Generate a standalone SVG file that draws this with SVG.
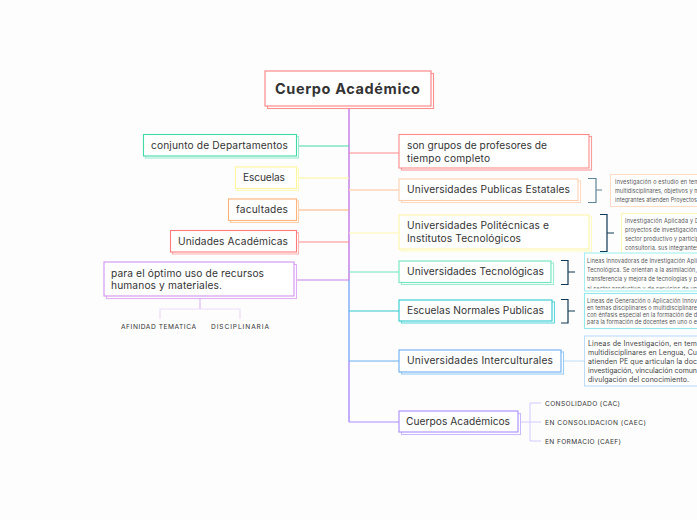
<svg xmlns="http://www.w3.org/2000/svg" width="697" height="520" viewBox="0 0 697 520">
<style>
text{font-family:"Inter","Open Sans","Liberation Sans",sans-serif;fill:#333}
.l{font-size:10.200px}
.s{font-size:5.500px;fill:#555}
.m{font-size:7px;fill:#444}
.t{font-size:6.600px}
.c{fill:none}
rect{fill:#fff;stroke-width:1.1}
</style>
<defs>
<clipPath id="cpTec"><rect x="585" y="254" width="112" height="34.500"/></clipPath>
<clipPath id="cpPol"><rect x="622" y="214" width="75" height="37"/></clipPath>
</defs>
<rect x="0" y="0" width="697" height="520" style="fill:#fdfdfd;stroke:none"/>
<g id="connectors" class="c" stroke-width="1">
<path d="M349 106V280" stroke="#bf78e6" stroke-width="1.400"/>
<path d="M349 280V361" stroke="#7faaf5" stroke-width="1.400"/>
<path d="M349 361V422" stroke="#a98cff" stroke-width="1.400"/>
<path d="M298 146H349" stroke="#40d9a8"/>
<path d="M298 178H349" stroke="#fff59a"/>
<path d="M298 210H349" stroke="#ffb27a"/>
<path d="M298 242H349" stroke="#ff8a8a"/>
<path d="M297 280H349" stroke="#c77ee8"/>
<path d="M349 153H399" stroke="#ff8a8a"/>
<path d="M349 190H399" stroke="#ffd3b8" stroke-width="1.600"/>
<path d="M349 233H399" stroke="#fff7b0"/>
<path d="M349 272H399" stroke="#6fe6bd"/>
<path d="M349 311H399" stroke="#2fc9d0"/>
<path d="M349 361H399" stroke="#6aaef0"/>
<path d="M349 422H399" stroke="#a98cff"/>
<path d="M200 299V309M160 319V309H240V319" stroke="#eeddfa" stroke-width="1.200"/>
<path d="M200 299V309" stroke="#e3c6f6" stroke-width="1.200"/>
<path d="M521 422H541M541 403H530V441H541" stroke="#d3c8ff"/>
<path d="M564 361H584" stroke="#bcdcf8"/>
<path d="M588 178.500H596V202.500H588M596 190H602" stroke="#5f8398" stroke-width="1.200"/>
<path d="M600 214.500H607V251.500H600M607 233H614" stroke="#0e3a55" stroke-width="1.200"/>
<path d="M561 260.500H568V284.500H561M568 272H575" stroke="#0e3a55" stroke-width="1.200"/>
<path d="M561 299.500H568V323H561M568 311H575" stroke="#0e3a55" stroke-width="1.200"/>
</g>
<g id="root">
<rect x="267.500" y="73.500" width="166" height="35" stroke="#ff8f8f"/>
<rect x="265" y="71" width="166" height="35" stroke="#ff8080"/>
<text x="275" y="94" font-size="14.500" font-weight="700" textLength="145">Cuerpo Académico</text>
</g>
<g id="n-departamentos">
<rect x="145.500" y="136.500" width="153" height="21.500" stroke="#9debd0"/>
<rect x="143.500" y="134.500" width="153" height="21.500" stroke="#40d9a8"/>
<text class="l" x="151" y="149" textLength="137">conjunto de Departamentos</text>
</g>
<g id="n-escuelas">
<rect x="237.500" y="169" width="61" height="21.500" stroke="#fff9b8"/>
<rect x="235.500" y="167" width="61" height="21.500" stroke="#fff59a"/>
<text class="l" x="243" y="181" textLength="42">Escuelas</text>
</g>
<g id="n-facultades">
<rect x="230.500" y="201" width="68" height="21.500" stroke="#ffcfa8"/>
<rect x="228.500" y="199" width="68" height="21.500" stroke="#ffb27a"/>
<text class="l" x="236" y="213" textLength="52">facultades</text>
</g>
<g id="n-unidades">
<rect x="172.500" y="232.500" width="126" height="21.500" stroke="#ffb3b3"/>
<rect x="170.500" y="230.500" width="126" height="21.500" stroke="#ff7b7b"/>
<text class="l" x="178" y="245" textLength="110">Unidades Académicas</text>
</g>
<g id="n-para">
<rect x="106.500" y="264.500" width="190" height="34" stroke="#e0b0f5"/>
<rect x="104" y="262" width="190" height="34" stroke="#cf93ef"/>
<text class="l" x="111" y="277" textLength="153">para el óptimo uso de recursos</text>
<text class="l" x="111" y="289" textLength="111">humanos y materiales.</text>
</g>
<g id="n-afinidad"><text class="t" x="121" y="329" textLength="75">AFINIDAD TEMATICA</text></g>
<g id="n-disciplinaria"><text class="t" x="211" y="329" textLength="58">DISCIPLINARIA</text></g>
<g id="n-grupos">
<rect x="401.500" y="136.500" width="190" height="33.500" stroke="#ff9a9a"/>
<rect x="399" y="134.500" width="190" height="33.500" stroke="#ff8a8a"/>
<text class="l" x="407" y="149" textLength="140">son grupos de profesores de</text>
<text class="l" x="407" y="162" textLength="83">tiempo completo</text>
</g>
<g id="n-publicas">
<rect x="401.500" y="181" width="179" height="21.500" stroke="#ffd9c2"/>
<rect x="399" y="179" width="179" height="21.500" stroke="#ffcfb0"/>
<text class="l" x="407" y="193" textLength="163">Universidades Publicas Estatales</text>
</g>
<g id="d-publicas">
<rect x="610.500" y="174.500" width="95" height="32" stroke="#ffdcc8"/>
<text class="s" x="615" y="184" textLength="84">Investigación o estudio en tem</text>
<text class="s" x="615" y="193" textLength="84">multidisciplinares, objetivos y m</text>
<text class="s" x="615" y="202" textLength="82">integrantes atienden Proyectos</text>
</g>
<g id="n-politecnicas">
<rect x="401.500" y="217" width="190" height="34" stroke="#fff9c0"/>
<rect x="399" y="215" width="190" height="34" stroke="#fff5a8"/>
<text class="l" x="407" y="229" textLength="142">Universidades Politécnicas e</text>
<text class="l" x="407" y="242" textLength="114">Institutos Tecnológicos</text>
</g>
<g id="d-politecnicas">
<rect x="621.500" y="213.500" width="85" height="45" stroke="#fff6b8"/>
<g clip-path="url(#cpPol)">
<text class="s" x="625" y="223" textLength="74">Investigación Aplicada y D</text>
<text class="s" x="625" y="232" textLength="72">proyectos de investigación</text>
<text class="s" x="625" y="241" textLength="74">sector productivo y particip</text>
<text class="s" x="625" y="250" textLength="74">consultoria. sus integrantes</text>
</g>
</g>
<g id="n-tecnologicas">
<rect x="401.500" y="263" width="152" height="21.500" stroke="#9debd0"/>
<rect x="399" y="261" width="152" height="21.500" stroke="#6fe6bd"/>
<text class="l" x="407" y="275" textLength="137">Universidades Tecnológicas</text>
</g>
<g id="d-tecnologicas">
<rect x="584.500" y="253" width="125" height="38" stroke="#a5eef0"/>
<g clip-path="url(#cpTec)">
<text class="s" x="587" y="263" textLength="110">Lineas Innovadoras de Investigación Apli</text>
<text class="s" x="587" y="272" textLength="110">Tecnológica. Se orientan a la asimilación,</text>
<text class="s" x="587" y="281" textLength="110">transferencia y mejora de tecnologías y p</text>
<text class="s" x="587" y="290.500" textLength="110">al sector productivo y de servicios de un</text>
</g>
</g>
<g id="n-normales">
<rect x="401.500" y="302" width="153" height="21" stroke="#5fd7dc"/>
<rect x="399" y="300" width="153" height="21" stroke="#2fc9d0"/>
<text class="l" x="407" y="314" textLength="137">Escuelas Normales Publicas</text>
</g>
<g id="d-normales">
<rect x="584.500" y="293.500" width="125" height="35" stroke="#8fe8ea"/>
<text class="s" x="587" y="303" textLength="110">Lineas de Generación o Aplicación Innov</text>
<text class="s" x="587" y="310" textLength="110">en temas disciplinares o multidisciplinare</text>
<text class="s" x="587" y="317" textLength="110">con énfasis especial en la formación de d</text>
<text class="s" x="587" y="324" textLength="110">para la formación de docentes en uno o e</text>
</g>
<g id="n-interculturales">
<rect x="401.500" y="352" width="162" height="22" stroke="#9ccbf5"/>
<rect x="399" y="350" width="162" height="22" stroke="#6aaef0"/>
<text class="l" x="407" y="364" textLength="146">Universidades Interculturales</text>
</g>
<g id="d-interculturales">
<rect x="584.500" y="336" width="125" height="50" stroke="#bcdcf8"/>
<text class="m" x="588" y="346" textLength="109">Lineas de Investigación, en tem</text>
<text class="m" x="588" y="355" textLength="109">multidisciplinares en Lengua, Cu</text>
<text class="m" x="588" y="364" textLength="109">atienden PE que articulan la doc</text>
<text class="m" x="588" y="373" textLength="109">investigación, vinculación comun</text>
<text class="m" x="588" y="382" textLength="101">divulgación del conocimiento.</text>
</g>
<g id="n-cuerpos">
<rect x="401.500" y="413.500" width="119" height="21" stroke="#c9baff"/>
<rect x="399" y="411" width="119" height="21" stroke="#a98cff"/>
<text class="l" x="406" y="425" textLength="104">Cuerpos Académicos</text>
</g>
<g id="n-cac"><text class="t" x="545" y="406" textLength="75">CONSOLIDADO (CAC)</text></g>
<g id="n-caec"><text class="t" x="545" y="425" textLength="101">EN CONSOLIDACION (CAEC)</text></g>
<g id="n-caef"><text class="t" x="545" y="444" textLength="76">EN FORMACIO (CAEF)</text></g>
</svg>
